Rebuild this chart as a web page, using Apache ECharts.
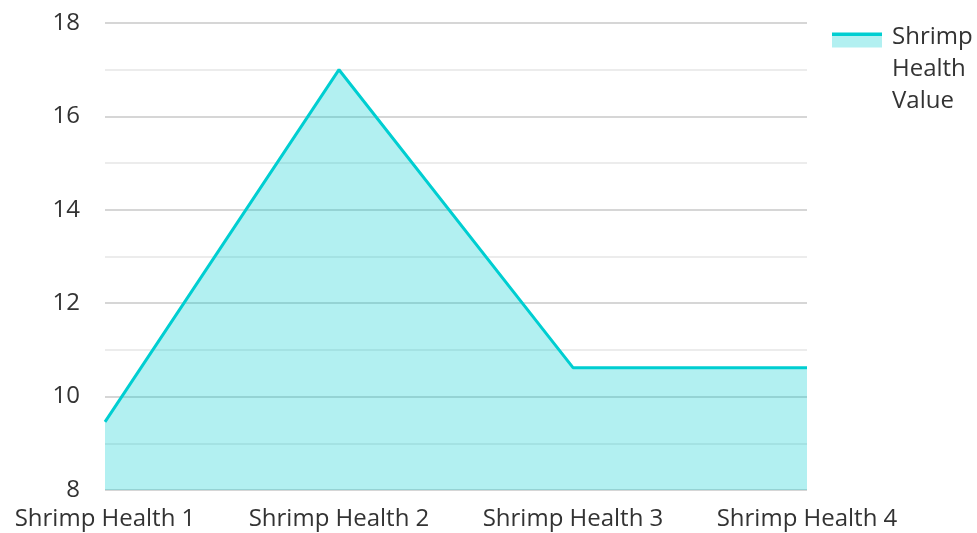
<!DOCTYPE html>
<html><head><meta charset="utf-8">
<script src="https://cdn.jsdelivr.net/npm/echarts@6/dist/echarts.min.js"></script>
<style>html,body{margin:0;padding:0;background:#fff}#c{width:977px;height:533px}</style>
</head><body><div id="c"></div>
<script>
const categories = ['Shrimp Health 1', 'Shrimp Health 2', 'Shrimp Health 3', 'Shrimp Health 4'];
const values = [9.46, 17.0, 10.62, 10.62];
const seriesName = 'Shrimp Health Value';
const yMin = 8, yMax = 18, yInterval = 2;

const LINE = '#00CED1', AREA = '#b2f0f1';
const chart = echarts.init(document.getElementById('c'));
chart.setOption({
  animation: false,
  textStyle: { fontFamily: 'Open Sans' },
  grid: { left: 105, right: 170, top: 23, bottom: 43, containLabel: false },
  legend: {
    orient: 'vertical', left: 832, top: 21, padding: 0,
    itemWidth: 50, itemHeight: 96, itemGap: 10,
    icon: 'path://M0,0L0,0M0,11.5H50V26.5H0ZM0,96L0,96',
    itemStyle: {
      color: { type: 'linear', x: 0, y: 0, x2: 0, y2: 1, colorStops: [
        { offset: 0, color: LINE }, { offset: 0.152, color: LINE },
        { offset: 0.152, color: AREA }, { offset: 1, color: AREA } ] },
      borderWidth: 0
    },
    formatter: n => n.split(' ').join('\n'),
    textStyle: { fontSize: 24, color: '#333', lineHeight: 32, align: 'left', padding: [0, 0, 0, 5], fontFamily: 'Open Sans' },
    data: [seriesName]
  },
  xAxis: {
    type: 'category', data: categories, boundaryGap: false,
    axisLine: { show: false }, axisTick: { show: false },
    axisLabel: { fontSize: 24, color: '#333', margin: 17, interval: 0, fontFamily: 'Open Sans' }
  },
  yAxis: {
    type: 'value', min: yMin, max: yMax, interval: yInterval,
    axisLine: { show: false }, axisTick: { show: false },
    axisLabel: { fontSize: 24, color: '#333', margin: 25, fontFamily: 'Open Sans' },
    splitLine: { lineStyle: { color: '#c8c8c8', width: 1.5 } },
    minorTick: { show: false, splitNumber: 2 },
    minorSplitLine: { show: true, lineStyle: { color: '#e6e6e6', width: 1.5 } }
  },
  series: [{
    name: seriesName, type: 'line', data: values,
    showSymbol: false, symbol: 'none',
    lineStyle: { color: LINE, width: 3 },
    itemStyle: { color: LINE },
    areaStyle: { color: LINE, opacity: 0.3, origin: 'start' }
  }]
});
</script></body></html>
